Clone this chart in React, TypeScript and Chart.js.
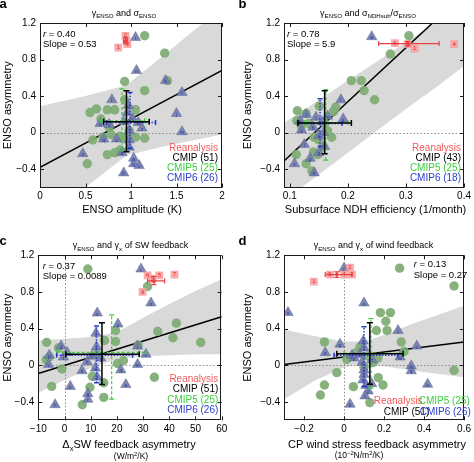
import React, { useEffect, useRef } from "react";
import { Chart, registerables } from "chart.js";

Chart.register(...registerables);

type Pt = [number, number];
type LPt = [number, number, string];

const FONT = '"Liberation Sans", Arial, Helvetica, sans-serif';
const W = 237;
const H = 231;

const Y_TICKS = [-0.4, 0, 0.4, 0.8, 1.2];
const LEGEND_LABELS = ["Reanalysis", "CMIP", "CMIP5", "CMIP6"];

// ---------------- Panel a ----------------
const A_X_TICKS = [0, 0.5, 1, 1.5, 2];
const A_COUNTS = ["51", "25", "26"];
const A_STATS_TEXT = ["0.40", "0.53"];
const A_CMIP5: Pt[] = [
  [1.15, 1.06], [1.37, 0.87], [0.93, 0.56], [1.15, 0.46], [1.40, 0.57],
  [0.62, 0.26], [0.55, 0.22], [0.74, 0.25], [0.82, 0.25], [0.93, 0.36],
  [1.05, 0.25], [0.67, 0.15], [0.76, 0.06], [0.69, -0.05], [1.05, -0.05],
  [1.15, -0.06], [0.88, -0.04], [0.58, -0.08], [0.74, -0.24], [0.82, -0.22],
  [0.88, -0.19], [0.52, -0.34], [0.92, -0.06], [0.98, 0.02], [0.78, -0.02],
];
const A_CMIP6: LPt[] = [
  [1.05, 1.04, "r"], [1.06, 0.68, "n"], [1.38, 0.57, "k"], [1.56, 0.44, "i"],
  [0.79, 0.36, "l"], [1.50, 0.21, "j"], [1.56, 0.01, "m"], [0.66, 0.10, "u"],
  [0.76, 0.09, "v"], [0.70, -0.07, "q"], [0.84, -0.07, "x"], [0.47, -0.23, "o"],
  [0.90, -0.22, "a"], [1.03, -0.28, "p"], [1.03, -0.34, "g"], [1.09, -0.36, "c"],
  [0.92, -0.44, "b"], [0.98, 0.02, "f"], [0.98, -0.08, "t"], [0.98, -0.16, "s"],
  [0.97, 0.30, "d"], [1.02, 0.15, "e"], [0.96, 0.22, "h"], [1.08, 0.11, "w"],
  [0.92, 0.12, "y"], [1.12, 0.05, "z"],
];
const A_REAN: LPt[] = [
  [0.94, 1.06, "2"], [0.95, 1.01, "4"], [0.96, 0.97, "3"], [0.86, 0.93, "1"],
];
const A_BAND_X = [0, 0.5, 0.95, 1.4, 2.0];
const A_BAND_UP = [0.29, 0.40, 0.52, 0.88, 1.37];
const A_BAND_LO = [-0.97, -0.60, -0.25, -0.14, -0.02];
const A_REG: Pt[] = [[0, -0.38], [2, 0.68]];
// [cx, cy, xlo, xhi, ylo, yhi]
const A_ST_CMIP = [0.95, 0.12, 0.70, 1.20, -0.21, 0.46];
const A_ST_CMIP5 = [0.90, 0.13, 0.66, 1.15, -0.19, 0.48];
const A_ST_CMIP6 = [0.99, 0.11, 0.73, 1.27, -0.17, 0.44];
const A_ST_REAN = [0.94, 1.00, 0.92, 0.96, 0.97, 1.04];

// ---------------- Panel b ----------------
const B_X_TICKS = [0.1, 0.2, 0.3, 0.4];
const B_COUNTS = ["43", "25", "18"];
const B_STATS_TEXT = ["0.78", "5.9"];
const B_CMIP5: Pt[] = [
  [0.305, 1.06], [0.273, 0.86], [0.206, 0.57], [0.223, 0.57], [0.228, 0.46],
  [0.246, 0.36], [0.113, 0.24], [0.112, 0.13], [0.120, 0.07], [0.128, 0.21],
  [0.151, 0.29], [0.175, 0.23], [0.179, 0.28], [0.160, 0.10], [0.142, -0.05],
  [0.150, -0.08], [0.172, -0.05], [0.157, -0.16], [0.111, -0.24], [0.141, -0.21],
  [0.148, -0.24], [0.128, -0.34], [0.138, -0.42], [0.165, 0.02], [0.133, 0.10],
];
const B_CMIP6: LPt[] = [
  [0.241, 1.05, "a"], [0.188, 0.36, "l"], [0.192, 0.15, "k"], [0.128, 0.20, "f"],
  [0.145, 0.17, "j"], [0.118, 0.13, "p"], [0.140, 0.06, "h"], [0.120, 0.03, "e"],
  [0.155, 0.12, "u"], [0.158, 0.00, "t"], [0.150, -0.03, "s"], [0.125, -0.13, "i"],
  [0.135, -0.28, "g"], [0.108, -0.34, "c"], [0.142, -0.44, "b"], [0.160, -0.15, "d"],
  [0.150, -0.22, "q"], [0.165, 0.18, "m"],
];
const B_REAN: LPt[] = [
  [0.281, 0.98, "6"], [0.303, 0.97, "2"], [0.315, 0.92, "1"], [0.383, 0.97, "4"],
];
const B_BAND_X = [0.09, 0.12, 0.16, 0.20, 0.25, 0.30, 0.35, 0.40];
const B_BAND_UP = [0.11, 0.23, 0.40, 0.57, 0.78, 0.99, 1.20, 1.41];
const B_BAND_LO = [-0.75, -0.60, -0.41, -0.22, 0.02, 0.26, 0.49, 0.73];
const B_REG: Pt[] = [[0.09, -0.31], [0.4, 1.52]];
const B_ST_CMIP = [0.160, 0.105, 0.114, 0.206, -0.23, 0.46];
const B_ST_CMIP5 = [0.162, 0.11, 0.125, 0.20, -0.30, 0.47];
const B_ST_CMIP6 = [0.152, 0.10, 0.115, 0.19, -0.15, 0.37];
const B_ST_REAN = [0.303, 0.975, 0.253, 0.357, 0.95, 1.0];

// ---------------- Panel c ----------------
const C_X_TICKS = [-10, 0, 10, 20, 30, 40, 50, 60];
const C_COUNTS = ["51", "25", "26"];
const C_STATS_TEXT = ["0.37", "0.0089"];
const C_CMIP5: Pt[] = [
  [8.9, 1.05], [31.7, 0.86], [42.7, 0.46], [35.6, 0.37], [41.4, 0.30],
  [52.0, 0.25], [28.1, 0.22], [19.5, 0.38], [15.3, 0.27], [19.5, 0.26],
  [-6.8, 0.25], [-5.8, 0.09], [-7.0, 0.06], [-2.3, 0.19], [-1.0, -0.04],
  [20.2, 0.02], [34.3, -0.13], [15.0, -0.19], [10.6, -0.12], [9.7, -0.24],
  [6.8, -0.43], [15.0, -0.35], [-4.9, -0.23], [12.5, 0.12], [22.5, 0.05],
];
const C_CMIP6: LPt[] = [
  [29.2, 1.05, "r"], [33.0, 0.68, "n"], [12.5, 0.57, "s"], [20.4, 0.45, "x"],
  [-1.3, 0.21, "d"], [-5.8, 0.11, "p"], [-6.1, 0.01, "v"], [6.7, -0.06, "k"],
  [21.5, -0.05, "q"], [27.9, 0.01, "m"], [31.1, 0.12, "e"], [2.2, -0.23, "o"],
  [23.4, -0.21, "a"], [8.9, -0.31, "g"], [8.9, -0.37, "c"], [-3.6, -0.43, "b"],
  [12.5, -0.13, "f"], [27.9, 0.21, "i"], [13.8, 0.08, "j"], [10.5, 0.10, "l"],
  [-0.4, 0.09, "t"], [1.0, 0.14, "u"], [8.6, 0.04, "h"], [11.8, -0.03, "w"],
  [12.0, 0.35, "y"], [12.2, 0.20, "z"],
];
const C_REAN: LPt[] = [
  [42.0, 0.99, "7"], [36.2, 0.98, "5"], [31.7, 0.98, "6"], [33.5, 0.94, "2"], [29.8, 0.80, "9"],
];
const C_BAND_X = [-10, 0, 10, 20, 30, 40, 50, 60];
const C_BAND_UP = [0.27, 0.29, 0.31, 0.36, 0.52, 0.67, 0.81, 0.94];
const C_BAND_LO = [-0.30, -0.16, -0.03, 0.07, 0.10, 0.11, 0.12, 0.12];
const C_REG: Pt[] = [[-10, -0.09], [60, 0.53]];
const C_ST_CMIP = [14.3, 0.12, 0.5, 28.5, -0.21, 0.465];
const C_ST_CMIP5 = [18.0, 0.14, -3.0, 31.0, -0.37, 0.55];
const C_ST_CMIP6 = [12.2, 0.11, -3.0, 26.0, -0.19, 0.43];
const C_ST_REAN = [34.1, 0.92, 31.7, 38.2, 0.88, 0.97];

// ---------------- Panel d ----------------
const D_X_TICKS = [-0.2, 0, 0.2, 0.4, 0.6];
const D_COUNTS = ["51", "25", "26"];
const D_STATS_TEXT = ["0.13", "0.27"];
const D_CMIP5: Pt[] = [
  [0.278, 1.06], [0.55, 0.865], [0.182, 0.575], [0.232, 0.575], [0.209, 0.48],
  [0.162, 0.38], [0.215, 0.38], [-0.098, 0.255], [0.286, 0.255], [0.08, 0.20],
  [0.30, 0.15], [0.014, 0.065], [0.063, 0.14], [0.146, 0.03], [0.55, -0.055],
  [-0.036, -0.08], [-0.098, -0.215], [0.047, -0.233], [0.171, -0.135], [0.195, -0.215],
  [-0.118, -0.324], [0.129, -0.407], [0.12, 0.10], [0.17, 0.08], [0.10, -0.02],
];
const D_CMIP6: LPt[] = [
  [0.0, 1.058, "r"], [-0.28, 0.575, "s"], [0.10, 0.68, "n"], [0.27, 0.38, "j"],
  [0.364, 0.21, "i"], [-0.02, 0.23, "g"], [-0.094, 0.138, "o"], [0.336, -0.007, "m"],
  [0.336, -0.06, "q"], [0.418, -0.207, "e"], [0.121, -0.28, "d"], [0.138, -0.2, "p"],
  [0.105, -0.334, "c"], [0.03, -0.425, "b"], [0.096, 0.265, "k"], [0.10, 0.19, "l"],
  [0.09, 0.03, "x"], [0.10, -0.10, "f"], [0.28, 0.09, "w"], [0.05, 0.08, "v"],
  [0.08, 0.12, "u"], [0.10, -0.05, "t"], [0.095, -0.16, "h"], [0.11, -0.22, "a"],
  [0.04, 0.11, "y"], [0.14, 0.06, "z"],
];
const D_REAN: LPt[] = [
  [-0.151, 0.913, "1"], [0.03, 1.065, "2"], [0.04, 0.99, "3"], [-0.07, 0.99, "5"], [0.0, 0.99, "4"],
];
const D_BAND_X = [-0.3, -0.15, 0.0, 0.1, 0.2, 0.35, 0.6];
const D_BAND_UP = [0.39, 0.32, 0.26, 0.26, 0.33, 0.46, 0.65];
const D_BAND_LO = [-0.37, -0.17, -0.02, 0.02, -0.01, -0.06, -0.13];
const D_REG: Pt[] = [[-0.3, 0.01], [0.6, 0.255]];
const D_ST_CMIP = [0.129, 0.127, -0.036, 0.295, -0.207, 0.465];
const D_ST_CMIP5 = [0.135, 0.13, 0.0, 0.30, -0.25, 0.51];
const D_ST_CMIP6 = [0.10, 0.11, -0.05, 0.27, -0.23, 0.42];
const D_ST_REAN = [-0.036, 0.99, -0.094, 0.039, 0.96, 1.02];

// ---------------- styling ----------------
const COL_GREEN_PT = "rgba(126,172,116,0.93)";
const COL_BLUE_PT = "rgba(116,126,170,0.93)";
const COL_RED_PT = "rgba(248,156,156,0.85)";
const COL_BAND = "#d9d9d9";
const COL_CMIP5 = "#3ccf3c";
const COL_CMIP6 = "#2a3ccc";
const COL_REAN = "#e84040";
const COL_LEG_REAN = "#f05a5a";

type Run = { t: string; sub?: boolean; sup?: boolean; it?: boolean; b?: boolean };
type TextItem = { runs: Run[]; x: number; y: number; size: number; align: "left" | "center" | "right"; color: string };

interface PanelCfg {
  left: number; top: number;
  L: number; R: number; T: number; B: number;
  xMin: number; xMax: number; xTicks: number[]; xFmt: (v: number) => string;
  cmip5: Pt[]; cmip6: LPt[]; rean: LPt[];
  bandX: number[]; bandUp: number[]; bandLo: number[]; reg: Pt[];
  stCmip: number[]; stCmip5: number[]; stCmip6: number[]; stRean: number[];
  vZero: boolean;
  texts: TextItem[];
  yTitleX: number;
}

const fmtDec = (v: number) => (v === 0 ? "0" : (v < 0 ? "\u2212" : "") + Math.abs(v).toFixed(1));
const fmtPlain = (v: number) => (v < 0 ? "\u2212" : "") + String(Math.abs(v));

function runFont(r: Run, base: number) {
  const s = r.sub || r.sup ? base * 0.68 : base;
  return `${r.it ? "italic " : ""}${r.b ? "bold " : ""}${s}px ${FONT}`;
}

function drawRich(ctx: CanvasRenderingContext2D, it: TextItem) {
  ctx.save();
  ctx.fillStyle = it.color;
  ctx.textBaseline = "alphabetic";
  ctx.textAlign = "left";
  const widths = it.runs.map((r) => {
    ctx.font = runFont(r, it.size);
    return ctx.measureText(r.t).width;
  });
  const total = widths.reduce((a, b) => a + b, 0);
  let x = it.align === "left" ? it.x : it.align === "center" ? it.x - total / 2 : it.x - total;
  it.runs.forEach((r, i) => {
    ctx.font = runFont(r, it.size);
    const dy = r.sub ? it.size * 0.28 : r.sup ? -it.size * 0.38 : 0;
    ctx.fillText(r.t, x, it.y + dy);
    x += widths[i];
  });
  ctx.restore();
}

function statsTexts(vals: string[], x: number, y1: number, y2: number): TextItem[] {
  return [
    { runs: [{ t: "r", it: true }, { t: " = " + vals[0] }], x, y: y1, size: 9.5, align: "left", color: "#000" },
    { runs: [{ t: "Slope = " + vals[1] }], x, y: y2, size: 9.5, align: "left", color: "#000" },
  ];
}

function legendTexts(counts: string[], x: number, ys: number[]): TextItem[] {
  const cols = [COL_LEG_REAN, "#000", COL_CMIP5, COL_CMIP6];
  return LEGEND_LABELS.map((l, i) => ({
    runs: [{ t: i === 0 ? l : `${l} (${counts[i - 1]})` }],
    x, y: ys[i], size: 10, align: "right" as const, color: cols[i],
  }));
}

const G = (t: string): Run => ({ t });
const S = (t: string): Run => ({ t, sub: true });
const U = (t: string): Run => ({ t, sup: true });

const PANELS: PanelCfg[] = [
  {
    left: 0, top: 0, L: 40, R: 222, T: 23, B: 187.5,
    xMin: 0, xMax: 2, xTicks: A_X_TICKS, xFmt: (v) => String(v),
    cmip5: A_CMIP5, cmip6: A_CMIP6, rean: A_REAN,
    bandX: A_BAND_X, bandUp: A_BAND_UP, bandLo: A_BAND_LO, reg: A_REG,
    stCmip: A_ST_CMIP, stCmip5: A_ST_CMIP5, stCmip6: A_ST_CMIP6, stRean: A_ST_REAN,
    vZero: false, yTitleX: 8,
    texts: [
      { runs: [{ t: "a", b: true }], x: -0.5, y: 7.5, size: 13, align: "left", color: "#000" },
      { runs: [G("\u03b3"), S("ENSO"), G(" and \u03c3"), S("ENSO")], x: 124, y: 15.5, size: 9, align: "center", color: "#000" },
      { runs: [G("ENSO amplitude (K)")], x: 132, y: 213, size: 11, align: "center", color: "#000" },
      ...statsTexts(A_STATS_TEXT, 43, 36.5, 46.5),
      ...legendTexts(A_COUNTS, 218, [150.5, 160.5, 170.5, 180.5]),
    ],
  },
  {
    left: 237, top: 0, L: 47, R: 228.3, T: 23, B: 187.5,
    xMin: 0.09, xMax: 0.4, xTicks: B_X_TICKS, xFmt: (v) => v.toFixed(1),
    cmip5: B_CMIP5, cmip6: B_CMIP6, rean: B_REAN,
    bandX: B_BAND_X, bandUp: B_BAND_UP, bandLo: B_BAND_LO, reg: B_REG,
    stCmip: B_ST_CMIP, stCmip5: B_ST_CMIP5, stCmip6: B_ST_CMIP6, stRean: B_ST_REAN,
    vZero: false, yTitleX: 10.5,
    texts: [
      { runs: [{ t: "b", b: true }], x: 1.5, y: 8, size: 13, align: "left", color: "#000" },
      { runs: [G("\u03b3"), S("ENSO"), G(" and \u03c3"), S("NDHsub"), G("/\u03c3"), S("ENSO")], x: 131, y: 15.5, size: 9, align: "center", color: "#000" },
      { runs: [G("Subsurface NDH efficiency (1/month)")], x: 138.5, y: 213, size: 11, align: "center", color: "#000" },
      ...statsTexts(B_STATS_TEXT, 50, 36.5, 46.5),
      ...legendTexts(B_COUNTS, 224, [150.5, 160.5, 170.5, 180.5]),
    ],
  },
  {
    left: 0, top: 231, L: 38.3, R: 221.7, T: 24.3, B: 189.3,
    xMin: -10, xMax: 60, xTicks: C_X_TICKS, xFmt: fmtPlain,
    cmip5: C_CMIP5, cmip6: C_CMIP6, rean: C_REAN,
    bandX: C_BAND_X, bandUp: C_BAND_UP, bandLo: C_BAND_LO, reg: C_REG,
    stCmip: C_ST_CMIP, stCmip5: C_ST_CMIP5, stCmip6: C_ST_CMIP6, stRean: C_ST_REAN,
    vZero: true, yTitleX: 8,
    texts: [
      { runs: [{ t: "c", b: true }], x: -0.5, y: 14, size: 13, align: "left", color: "#000" },
      { runs: [G("\u03b3"), S("ENSO"), G(" and \u03b3"), S("x"), G(" of SW feedback")], x: 130.5, y: 17, size: 9, align: "center", color: "#000" },
      { runs: [G("\u0394"), S("x"), G("SW feedback asymmetry")], x: 129, y: 216.5, size: 11, align: "center", color: "#000" },
      { runs: [G("(W/m"), U("2"), G("/K)")], x: 131, y: 228, size: 8.5, align: "center", color: "#000" },
      ...statsTexts(C_STATS_TEXT, 42.7, 38, 48),
      ...legendTexts(C_COUNTS, 218.3, [150.5, 161, 171.5, 182]),
    ],
  },
  {
    left: 237, top: 231, L: 47, R: 228.3, T: 24.3, B: 189.3,
    xMin: -0.3, xMax: 0.6, xTicks: D_X_TICKS, xFmt: fmtDec,
    cmip5: D_CMIP5, cmip6: D_CMIP6, rean: D_REAN,
    bandX: D_BAND_X, bandUp: D_BAND_UP, bandLo: D_BAND_LO, reg: D_REG,
    stCmip: D_ST_CMIP, stCmip5: D_ST_CMIP5, stCmip6: D_ST_CMIP6, stRean: D_ST_REAN,
    vZero: true, yTitleX: 10.5,
    texts: [
      { runs: [{ t: "d", b: true }], x: 1.5, y: 14, size: 13, align: "left", color: "#000" },
      { runs: [G("\u03b3"), S("ENSO"), G(" and \u03b3"), S("x"), G(" of wind feedback")], x: 136.5, y: 17, size: 9, align: "center", color: "#000" },
      { runs: [G("CP wind stress feedback asymmetry")], x: 140, y: 216.5, size: 11, align: "center", color: "#000" },
      { runs: [G("(10"), U("\u22122"), G("N/m"), U("2"), G("/K)")], x: 122, y: 227, size: 8.5, align: "center", color: "#000" },
      ...statsTexts(D_STATS_TEXT, 176.7, 35.5, 46.5),
      { runs: [G(LEGEND_LABELS[0])], x: 136.7, y: 173, size: 10, align: "left", color: COL_LEG_REAN },
      { runs: [G(`${LEGEND_LABELS[2]} (${D_COUNTS[1]})`)], x: 181.7, y: 173, size: 10, align: "left", color: COL_CMIP5 },
      { runs: [G(`${LEGEND_LABELS[1]} (${D_COUNTS[0]})`)], x: 146.7, y: 183.5, size: 10, align: "left", color: "#000" },
      { runs: [G(`${LEGEND_LABELS[3]} (${D_COUNTS[2]})`)], x: 182.7, y: 183.5, size: 10, align: "left", color: COL_CMIP6 },
    ],
  },
];

function drawCross(ctx: CanvasRenderingContext2D, chart: any, s: number[], color: string, dash: number[], lw: number, cap: number) {
  const xs = chart.scales.x, ys = chart.scales.y;
  const X = (v: number) => xs.getPixelForValue(v);
  const Y = (v: number) => ys.getPixelForValue(v);
  const [cx, cy, x0, x1, y0, y1] = s;
  ctx.save();
  ctx.strokeStyle = color;
  ctx.lineWidth = lw;
  ctx.setLineDash(dash);
  ctx.beginPath();
  ctx.moveTo(X(x0), Y(cy)); ctx.lineTo(X(x1), Y(cy));
  ctx.moveTo(X(cx), Y(y0)); ctx.lineTo(X(cx), Y(y1));
  ctx.stroke();
  ctx.setLineDash([]);
  ctx.beginPath();
  ctx.moveTo(X(x0), Y(cy) - cap); ctx.lineTo(X(x0), Y(cy) + cap);
  ctx.moveTo(X(x1), Y(cy) - cap); ctx.lineTo(X(x1), Y(cy) + cap);
  ctx.moveTo(X(cx) - cap, Y(y0)); ctx.lineTo(X(cx) + cap, Y(y0));
  ctx.moveTo(X(cx) - cap, Y(y1)); ctx.lineTo(X(cx) + cap, Y(y1));
  ctx.stroke();
  ctx.restore();
}

function makePlugin(p: PanelCfg) {
  return {
    id: "panelDecor",
    beforeDatasetsDraw(chart: any) {
      const { ctx, chartArea: a, scales } = chart;
      ctx.save();
      ctx.strokeStyle = "#8a8a8a";
      ctx.lineWidth = 1;
      ctx.setLineDash([1.5, 2]);
      ctx.beginPath();
      const y0 = Math.round(scales.y.getPixelForValue(0)) + 0.5;
      ctx.moveTo(a.left, y0); ctx.lineTo(a.right, y0);
      if (p.vZero) {
        const x0 = Math.round(scales.x.getPixelForValue(0)) + 0.5;
        ctx.moveTo(x0, a.top); ctx.lineTo(x0, a.bottom);
      }
      ctx.stroke();
      ctx.restore();
    },
    afterDatasetsDraw(chart: any) {
      const { ctx, scales } = chart;
      const X = (v: number) => scales.x.getPixelForValue(v);
      const Y = (v: number) => scales.y.getPixelForValue(v);
      ctx.save();
      ctx.textAlign = "center";
      ctx.textBaseline = "middle";
      ctx.font = `5px ${FONT}`;
      ctx.fillStyle = "#2536a8";
      p.cmip6.forEach(([vx, vy, l]) => ctx.fillText(l, X(vx), Y(vy) + 1.2));
      ctx.font = `6px ${FONT}`;
      ctx.fillStyle = "#e02828";
      p.rean.forEach(([vx, vy, l]) => ctx.fillText(l, X(vx), Y(vy)));
      ctx.restore();
      drawCross(ctx, chart, p.stCmip5, COL_CMIP5, [3, 2], 1.2, 2.5);
      drawCross(ctx, chart, p.stCmip6, COL_CMIP6, [1.5, 1.5], 1.5, 2.5);
      drawCross(ctx, chart, p.stCmip, "#000", [], 1.5, 3);
      drawCross(ctx, chart, p.stRean, COL_REAN, [], 1.2, 2.5);
      ctx.save();
      ctx.fillStyle = COL_REAN;
      ctx.beginPath();
      ctx.arc(X(p.stRean[0]), Y(p.stRean[1]), 1.8, 0, Math.PI * 2);
      ctx.fill();
      ctx.restore();
    },
    afterDraw(chart: any) {
      const { ctx, chartArea: a, scales } = chart;
      ctx.save();
      ctx.strokeStyle = "#1a1a1a";
      ctx.lineWidth = 1;
      ctx.strokeRect(Math.round(a.left) + 0.5, Math.round(a.top) + 0.5, Math.round(a.right - a.left) - 1, Math.round(a.bottom - a.top) - 1);
      ctx.beginPath();
      const tl = 4;
      p.xTicks.forEach((v) => {
        const px = Math.round(scales.x.getPixelForValue(v)) + 0.5;
        ctx.moveTo(px, a.bottom); ctx.lineTo(px, a.bottom - tl);
        ctx.moveTo(px, a.top); ctx.lineTo(px, a.top + tl);
      });
      Y_TICKS.forEach((v) => {
        const py = Math.round(scales.y.getPixelForValue(v)) + 0.5;
        ctx.moveTo(a.left, py); ctx.lineTo(a.left + tl, py);
        ctx.moveTo(a.right, py); ctx.lineTo(a.right - tl, py);
      });
      ctx.stroke();
      ctx.translate(p.yTitleX, (a.top + a.bottom) / 2);
      ctx.rotate(-Math.PI / 2);
      ctx.fillStyle = "#000";
      ctx.font = `11px ${FONT}`;
      ctx.textAlign = "center";
      ctx.textBaseline = "middle";
      ctx.fillText("ENSO asymmetry", 0, 0);
      ctx.restore();
      p.texts.forEach((t) => drawRich(ctx, t));
    },
  };
}

function buildConfig(p: PanelCfg): any {
  const band = (ys: number[]) => p.bandX.map((x, i) => ({ x, y: ys[i] }));
  return {
    type: "scatter",
    data: {
      datasets: [
        { data: band(p.bandUp), showLine: true, fill: "+1", backgroundColor: COL_BAND, borderWidth: 0, pointRadius: 0, order: 10 },
        { data: band(p.bandLo), showLine: true, fill: false, borderWidth: 0, pointRadius: 0, order: 9 },
        { data: p.reg.map(([x, y]) => ({ x, y })), showLine: true, borderColor: "#000", borderWidth: 1.5, pointRadius: 0, order: 8 },
        { data: p.cmip5.map(([x, y]) => ({ x, y })), pointStyle: "circle", pointRadius: 4.7, backgroundColor: COL_GREEN_PT, borderWidth: 0, order: 3 },
        { data: p.cmip6.map(([x, y]) => ({ x, y })), pointStyle: "triangle", pointRadius: 6, backgroundColor: COL_BLUE_PT, borderColor: "rgba(95,104,150,1)", borderWidth: 0.5, order: 2 },
        { data: p.rean.map(([x, y]) => ({ x, y })), pointStyle: "rect", pointRadius: 5.5, backgroundColor: COL_RED_PT, borderWidth: 0, order: 1 },
      ],
    },
    options: {
      responsive: false,
      animation: false,
      events: [],
      layout: { padding: { left: 0, right: W - p.R, top: p.T, bottom: 0 } },
      plugins: {
        legend: { display: false },
        tooltip: { enabled: false },
        filler: { drawTime: "beforeDatasetsDraw" },
      },
      scales: {
        x: {
          type: "linear", min: p.xMin, max: p.xMax,
          grid: { display: false, drawTicks: false },
          border: { display: false },
          ticks: { font: { family: FONT, size: 10 }, color: "#000", padding: 3, autoSkip: false, maxRotation: 0, callback: (v: number) => p.xFmt(v) },
          afterBuildTicks: (s: any) => { s.ticks = p.xTicks.map((v) => ({ value: v })); },
          afterFit: (s: any) => { s.height = H - p.B; },
        },
        y: {
          type: "linear", min: -0.6, max: 1.2,
          grid: { display: false, drawTicks: false },
          border: { display: false },
          ticks: { font: { family: FONT, size: 10 }, color: "#000", padding: 4, autoSkip: false, callback: (v: number) => fmtDec(v) },
          afterBuildTicks: (s: any) => { s.ticks = Y_TICKS.map((v) => ({ value: v })); },
          afterFit: (s: any) => { s.width = p.L; },
        },
      },
    },
    plugins: [makePlugin(p)],
  };
}

function Panel({ cfg }: { cfg: PanelCfg }) {
  const ref = useRef<HTMLCanvasElement>(null);
  useEffect(() => {
    const chart = new Chart(ref.current as HTMLCanvasElement, buildConfig(cfg));
    return () => chart.destroy();
  }, [cfg]);
  return (
    <canvas
      ref={ref}
      width={W}
      height={H}
      style={{ position: "absolute", left: cfg.left, top: cfg.top, width: W, height: H }}
    />
  );
}

export default function App() {
  return (
    <div style={{ position: "absolute", left: 0, top: 0, width: 474, height: 462, background: "#fff", overflow: "hidden" }}>
      {PANELS.map((p, i) => (
        <Panel key={i} cfg={p} />
      ))}
    </div>
  );
}
